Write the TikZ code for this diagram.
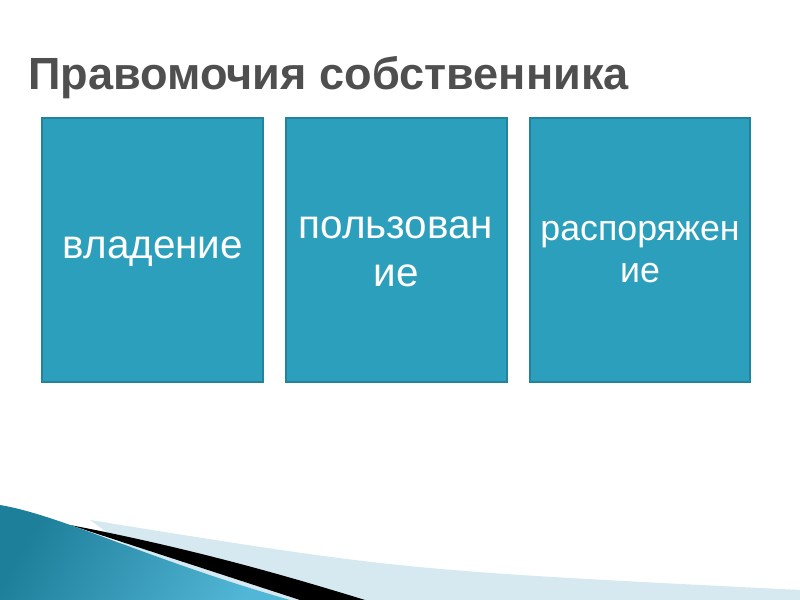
\documentclass[tikz,border=0pt]{standalone}
\usepackage{fontspec}
\setmainfont{Liberation Sans}
\begin{document}
\begin{tikzpicture}[x=0.03cm,y=-0.03cm,
  card/.style={draw=boxedge,line width=1.5pt,fill=boxfill},
  cardtext/.style={text=white,font=\fontsize{34.5}{41}\selectfont,align=center}]
\definecolor{boxfill}{HTML}{2C9FBD}
\definecolor{boxedge}{HTML}{23829C}
\definecolor{titlegray}{HTML}{4F4F4F}
\definecolor{teal}{HTML}{1E7F9A}
\definecolor{lteal}{HTML}{52B6D6}
\definecolor{paleblue}{HTML}{D6E9F1}
\useasboundingbox (0,0) rectangle (800,600);
\fill[white] (0,0) rectangle (800,600);
% bottom decoration
\fill[paleblue] (90,520) .. controls (400,570) .. (800,590) -- (800,600) -- (200,600) -- cycle;
\fill[black] (70,525) .. controls (200,550) and (300,580) .. (365,600) -- (300,600) -- cycle;
\shade[left color=teal,right color=lteal,shading angle=60] (0,505) .. controls (60,515) and (150,560) .. (290,600) -- (0,600) -- cycle;
% title
\node[anchor=base west,text=titlegray,font=\fontsize{38.5}{44}\selectfont\bfseries,inner sep=0pt] (title) at (28,90) {Правомочия собственника};
% cards
\draw[card] (42,118) rectangle (263,382);
\draw[card] (286,118) rectangle (507,382);
\draw[card] (530,118) rectangle (750,382);
\node[cardtext] (t1) at (153,252) {владение};
\node[cardtext] (t2) at (396,252) {пользован\\ие};
\node[cardtext,font=\fontsize{30.5}{36}\selectfont] (t3) at (640,252) {распоряжен\\ие};
\end{tikzpicture}
\end{document}
